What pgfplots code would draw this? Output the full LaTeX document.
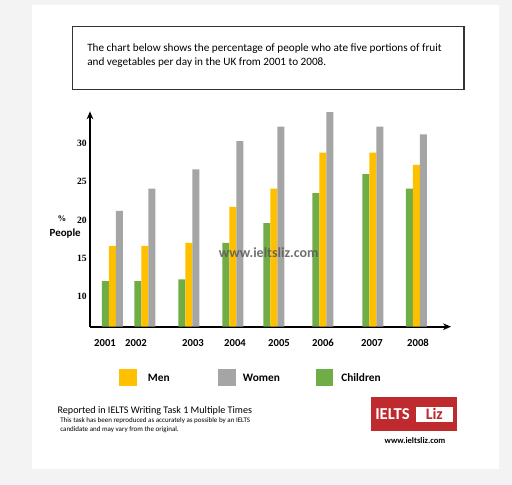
\documentclass[border=0pt]{standalone}
\usepackage{fontspec}
\setmainfont{Carlito}
\newfontfamily\lsf{Liberation Serif}
\usepackage{pgfplots}
\pgfplotsset{compat=1.18}
\usetikzlibrary{arrows.meta}
\definecolor{menY}{HTML}{FFC000}
\definecolor{womG}{HTML}{A5A5A5}
\definecolor{chG}{HTML}{70AD47}
\definecolor{bgG}{HTML}{F3F3F3}
\definecolor{lizR}{HTML}{BE2A2E}
\begin{document}
\begin{tikzpicture}[x=0.75pt,y=0.75pt]
\fill[bgG] (0,0) rectangle (512,485);
\fill[white] (32.3,16.3) rectangle (498.7,480.3);
\draw[line width=1.1pt, black!80] (72.7,395.7) rectangle (464,458.3);
\node[anchor=base west, inner sep=0, font=\fontsize{8.4}{10}\selectfont] at (87,433) {The chart below shows the percentage of people who ate five portions of fruit};
\node[anchor=base west, inner sep=0, font=\fontsize{8.4}{10}\selectfont] at (87,419.5) {and vegetables per day in the UK from 2001 to 2008.};
\begin{axis}[
  at={(67.5pt,118.725pt)}, anchor=south west,
  x=0.75pt, y=5.7375pt,
  xmin=90, xmax=451, ymin=6.05, ymax=34.2,
  enlargelimits=false,
  axis lines=left,
  axis line style={line width=1.3pt, -{Stealth[length=6pt,width=5pt]}},
  ytick={10,15,20,25,30},
  yticklabels={10,15,20,25,30},
  xtick={105,136,193,235,279,323,372,418},
  xticklabels={2001,2002,2003,2004,2005,2006,2007,2008},
  major tick length=0pt,
  yticklabel style={font=\lsf\bfseries\fontsize{7.2}{8}\selectfont, xshift=1pt},
  xticklabel style={font=\bfseries\fontsize{8}{9}\selectfont, yshift=-6pt},
]
\addplot[ybar, bar width=5.25pt, bar shift=-5.25pt, fill=chG, draw=none] coordinates {(112.3,12) (145,12) (189,12.25) (233,17) (274,19.6) (323,23.5) (373,26) (416.5,24.1)};
\addplot[ybar, bar width=5.25pt, bar shift=0pt, fill=menY, draw=none] coordinates {(112.3,16.6) (145,16.6) (189,17.0) (233,21.7) (274,24.1) (323,28.8) (373,28.8) (416.5,27.2)};
\addplot[ybar, bar width=5.25pt, bar shift=5.25pt, fill=womG, draw=none] coordinates {(112.3,21.2) (145,24.1) (189,26.6) (233,30.3) (274,32.2) (323,34.1) (373,32.2) (416.5,31.2)};
\end{axis}
\node[font=\lsf\bfseries\fontsize{6.5}{7}\selectfont] at (62,266.7) {\%};
\node[font=\bfseries\fontsize{8.2}{9}\selectfont] at (65.2,251.7) {People};
\node[font=\bfseries\fontsize{10.5}{12}\selectfont, text=black!65, opacity=0.85] at (268.7,232) {www.ieltsliz.com};
% legend
\fill[menY] (119,99.3) rectangle (136.7,115.7);
\node[anchor=west, inner sep=0, font=\bfseries\fontsize{8.5}{10}\selectfont] at (147.7,107.5) {Men};
\fill[womG] (218.3,99.3) rectangle (236,115.7);
\node[anchor=west, inner sep=0, font=\bfseries\fontsize{8.5}{10}\selectfont] at (242.7,107.5) {Women};
\fill[chG] (315.7,99.3) rectangle (333.3,115.7);
\node[anchor=west, inner sep=0, font=\bfseries\fontsize{8.5}{10}\selectfont] at (341,107.5) {Children};
% footer
\node[anchor=west, inner sep=0, font=\fontsize{7.6}{9}\selectfont] at (57.3,74.3) {Reported in IELTS Writing Task 1 Multiple Times};
\node[anchor=west, inner sep=0, font=\fontsize{5.25}{6}\selectfont] at (60,64.3) {This task has been reproduced as accurately as possible by an IELTS};
\node[anchor=west, inner sep=0, font=\fontsize{5.25}{6}\selectfont] at (60,55.7) {candidate and may vary from the original.};
\fill[lizR] (371,54.3) rectangle (456.7,88.3);
\fill[white] (416,63.3) rectangle (452.7,78.3);
\node[text=white, font=\bfseries\fontsize{12.5}{14}\selectfont] at (392.5,71) {IELTS};
\node[text=lizR, font=\bfseries\fontsize{12}{14}\selectfont] at (434.3,70.8) {Liz};
\node[font=\bfseries\fontsize{6.4}{7}\selectfont] at (415,44.3) {www.ieltsliz.com};
\end{tikzpicture}
\end{document}
